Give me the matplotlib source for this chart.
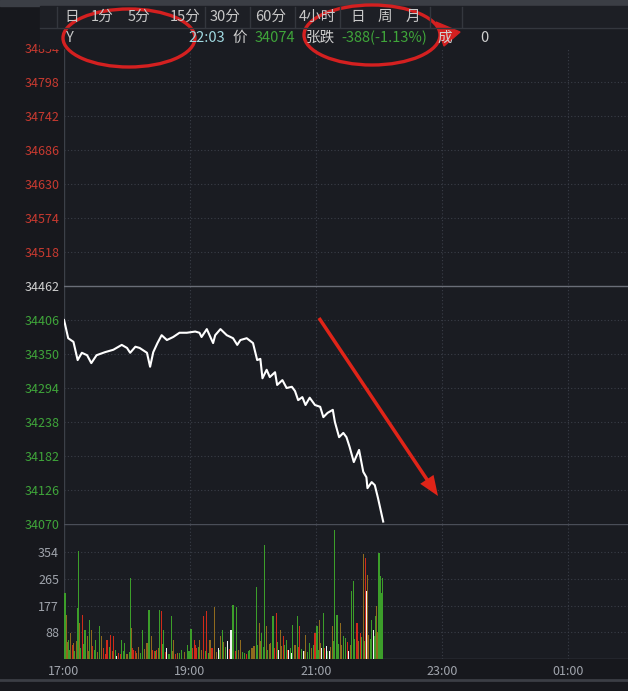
import numpy as np
import matplotlib
matplotlib.use("Agg")
import matplotlib.pyplot as plt
from matplotlib import patches

plt.rcParams['font.family'] = ['Noto Sans CJK SC', 'DejaVu Sans']

# price line (minutes after 17:00, price)
t_line = [0, 1, 4, 9, 13, 17, 22, 26, 31, 39, 47, 55, 60, 63, 68, 72, 79, 82, 85, 89,
          93, 98, 104, 110, 117, 125, 129, 131, 136, 142, 144, 149, 155, 161, 165, 168,
          174, 180, 184, 187, 189, 193, 196, 201, 203, 208, 212, 217, 220, 223, 227,
          230, 234, 239, 244, 247, 251, 256, 258, 262, 266, 269, 272, 276, 281, 285,
          288, 289, 293, 296, 299, 304]
price = [34406, 34399, 34376, 34370, 34340, 34352, 34348, 34335, 34348, 34353, 34357,
         34365, 34360, 34352, 34362, 34360, 34352, 34329, 34353, 34368, 34381, 34373,
         34378, 34385, 34385, 34387, 34385, 34378, 34391, 34368, 34381, 34391, 34381,
         34376, 34365, 34373, 34376, 34368, 34340, 34342, 34310, 34324, 34312, 34320,
         34299, 34307, 34294, 34296, 34289, 34274, 34279, 34266, 34278, 34266, 34263,
         34246, 34253, 34258, 34238, 34213, 34220, 34213, 34197, 34172, 34192, 34156,
         34147, 34129, 34139, 34134, 34113, 34074]

# volume bars (larger ones)
t_vol = [1, 2, 4, 6, 9, 13, 14, 15, 18, 20, 22, 24, 26, 30, 34, 36, 41, 44, 47, 50,
         55, 58, 63, 64, 66, 69, 75, 79, 81, 83, 86, 88, 91, 93, 95, 98, 102, 104, 110,
         118, 121, 124, 126, 129, 133, 136, 139, 143, 147, 149, 151, 156, 159, 161, 164,
         168, 172, 177, 181, 183, 186, 188, 191, 193, 197, 199, 202, 204, 206, 209, 212,
         214, 217, 218, 222, 224, 228, 230, 234, 239, 241, 243, 245, 247, 250, 253, 256,
         258, 260, 263, 266, 271, 274, 276, 279, 282, 285, 287, 288, 289, 293, 295, 297,
         298, 300, 301, 302, 303]
vol = [218, 147, 64, 86, 53, 169, 356, 119, 147, 97, 75, 130, 97, 64, 108, 75, 64, 81,
       75, 9, 64, 53, 268, 103, 31, 20, 97, 53, 163, 75, 25, 31, 163, 158, 97, 36, 141,
       64, 20, 47, 100, 64, 36, 64, 141, 158, 64, 172, 36, 75, 97, 58, 97, 180, 172, 64,
       20, 31, 42, 240, 119, 86, 378, 108, 53, 141, 152, 31, 97, 75, 64, 31, 20, 114, 141,
       108, 25, 81, 53, 86, 108, 130, 36, 152, 42, 25, 108, 428, 147, 119, 75, 25, 224,
       257, 119, 86, 349, 334, 224, 279, 130, 97, 141, 174, 351, 274, 218, 268]
vol_col = list("gogooggorg" "ogoggorrrw" "gggorogogo" "rrgrgwgogg"
               "grrorroowo" "gwwggoggog" "oggoogrwor" "gwwggrwogr"
               "gowgwwoggo" "gwggrrorwo" "gwgogggg")

# volume bars (small ones in between)
t_small = [0, 3, 5, 8, 10, 12, 16, 19, 23, 27, 29, 32, 38, 40, 43, 46, 49, 52, 54, 57,
           60, 62, 65, 68, 71, 73, 77, 80, 84, 87, 90, 94, 97, 100, 103, 106, 108, 112,
           115, 119, 122, 125, 128, 131, 135, 138, 141, 145, 148, 152, 154, 158, 163,
           166, 170, 174, 176, 179, 184, 187, 190, 194, 196, 200, 203, 207, 210, 213,
           216, 220, 223, 226, 229, 232, 236, 238, 242, 244, 248, 251, 254, 257, 261,
           264, 268, 270, 273, 277, 280, 283, 286, 290, 292, 296, 299]
vol_small = [40, 55, 30, 45, 25, 60, 35, 50, 28, 42, 30, 22, 35, 18, 40, 25, 30, 20, 15,
             25, 18, 22, 35, 28, 40, 20, 32, 45, 30, 25, 38, 50, 22, 18, 25, 15, 20, 30,
             22, 26, 35, 48, 40, 30, 28, 20, 36, 24, 30, 55, 40, 34, 26, 30, 22, 18, 28,
             35, 45, 60, 40, 30, 50, 38, 55, 42, 48, 30, 35, 45, 40, 32, 28, 24, 38, 46,
             30, 52, 35, 28, 40, 60, 50, 45, 70, 55, 48, 65, 58, 72, 60, 80, 66, 75, 90]
small_col = list("gogrgoggor" "gorrgogrrg" "ogrrogogrg" "ogrgorogog" "rrgoggrogo"
                 "grrogrgogo" "ggorgogrgo" "rgogoggorg" "oggogrogog" "goggo")

price_ticks = [34070, 34126, 34182, 34238, 34294, 34350, 34406, 34462, 34518, 34574,
               34630, 34686, 34742, 34798, 34854]
vol_ticks = [88, 177, 265, 354]
time_ticks = [0, 120, 240, 360, 480]
time_labels = ['17:00', '19:00', '21:00', '23:00', '01:00']
prev_close = 34462

bg = '#1a1c22'
grid_c = '#3a3e48'
cmap = {'g': '#3c9e2a', 'r': '#d02a1a', 'o': '#8f6a1e', 'w': '#f2f2f2'}

W, H = 628, 691
fig = plt.figure(figsize=(W / 100, H / 100), dpi=100, facecolor='#17181d')

x0 = 64
ax = fig.add_axes([x0 / W, 1 - 524 / H, (W - x0) / W, 476 / H], facecolor=bg)
axv = fig.add_axes([x0 / W, 1 - 659 / H, (W - x0) / W, 135 / H], facecolor=bg)

xmax = (W - x0) * 60 / 63
for a in (ax, axv):
    a.set_xlim(0, xmax)
    for s in a.spines.values():
        s.set_visible(False)
    for tx in time_ticks[1:]:
        a.axvline(tx, color=grid_c, lw=0.8, ls=(0, (1, 2)), zorder=0)
    a.axvline(0, color='#3c4048', lw=1, zorder=1)

# price panel
ax.set_ylim(price_ticks[0], price_ticks[-1])
ax.set_yticks(price_ticks)
ax.set_xticks([])
ax.tick_params(axis='y', length=0, pad=3, labelsize=9)
for v, lab in zip(price_ticks, ax.get_yticklabels()):
    lab.set_color('#d0d0d0' if v == prev_close else ('#c83a30' if v > prev_close else '#3fa53a'))
    if v == prev_close:
        ax.axhline(v, color='#6a6e78', lw=1, zorder=1)
    elif v != price_ticks[0]:
        ax.axhline(v, color=grid_c, lw=0.8, ls=(0, (1, 2)), zorder=0)
ax.plot(t_line, price, color='white', lw=1.5, zorder=3)

# volume panel
axv.set_ylim(0, 447)
axv.set_yticks(vol_ticks)
axv.set_xticks(time_ticks)
axv.set_xticklabels(time_labels)
axv.tick_params(axis='both', length=0, labelsize=9, colors='#a0a4ac')
axv.tick_params(axis='x', pad=4)
for v in vol_ticks:
    axv.axhline(v, color=grid_c, lw=0.8, ls=(0, (1, 2)), zorder=0)
axv.axhline(447, color='#4a4e58', lw=1, zorder=1)
axv.axhline(0, color='#4a4e58', lw=1, zorder=1)
axv.bar(t_small, vol_small, width=1.1, color=[cmap[c] for c in small_col], zorder=2)
axv.bar(t_vol, vol, width=1.1, color=[cmap[c] for c in vol_col], zorder=2)

# overlay for toolbar and annotations (pixel coordinates)
ov = fig.add_axes([0, 0, 1, 1], facecolor='none')
ov.set_xlim(0, W)
ov.set_ylim(H, 0)
ov.axis('off')

ov.add_patch(patches.Rectangle((0, 0), W, 6, color='#3b3e45'))
ov.add_patch(patches.Rectangle((40, 6), W - 40, 22, color='#1d1f25'))
ov.add_patch(patches.Rectangle((40, 28), W - 40, 20, color='#1a1c22'))
ov.plot([40, W], [28, 28], color='#34373e', lw=1)
ov.plot([0, W], [680, 680], color='#3b3e45', lw=2)
for sx in [57, 205, 250, 295, 340, 430, 462]:
    ov.plot([sx, sx], [7, 27], color='#34373e', lw=1)

buttons = [('日', 64), ('1分', 91), ('5分', 128), ('15分', 170), ('30分', 210),
           ('60分', 255), ('4小时', 299), ('日', 350), ('周', 378), ('月', 406)]
for txt, bx in buttons:
    ov.text(bx, 17, txt, color='#c8c8c8', fontsize=10.5, va='center', ha='left')

info = [('Y', 66, '#c8c8c8'), ('22:03', 188, '#9fd8e0'), ('价', 232, '#d0d0d0'),
        ('34074', 255, '#3fa53a'), ('张跌', 306, '#d0d0d0'),
        ('-388(-1.13%)', 341, '#3fa53a'), ('成', 437, '#d0d0d0'), ('0', 480, '#d0d0d0')]
for txt, bx, c in info:
    ov.text(bx, 37.5, txt, color=c, fontsize=10.5, va='center', ha='left')

ov.add_patch(patches.Ellipse((129, 38), 132, 58, fill=False, ec='#d42020', lw=2.4))
ov.add_patch(patches.Ellipse((372, 35), 136, 60, fill=False, ec='#d42020', lw=2.4))
ov.add_patch(patches.Polygon([[436, 22], [460, 32], [444, 46]], color='#d42020'))
ov.add_patch(patches.FancyArrow(319, 318, 119, 178, width=3.5, head_width=16,
                                head_length=20, length_includes_head=True,
                                color='#e02418', lw=0))

fig.savefig('out.png', dpi=100, facecolor=fig.get_facecolor())
